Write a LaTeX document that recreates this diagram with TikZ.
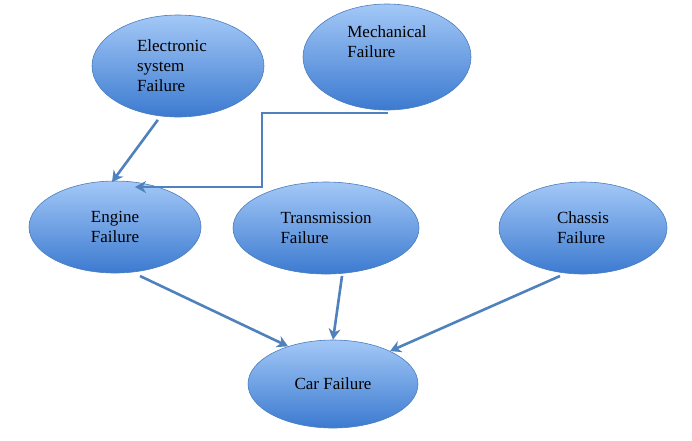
\documentclass[tikz,border=0pt]{standalone}
\usepackage{fontspec}
\setmainfont{Liberation Serif}
\usetikzlibrary{shapes.geometric,arrows.meta}
\definecolor{arr}{HTML}{4F81BD}
\definecolor{elltop}{HTML}{A3C8F7}
\definecolor{ellbot}{HTML}{3C7AD0}
\definecolor{ellline}{HTML}{4A7EBB}
\tikzset{
 ell/.style={ellipse, draw=ellline, line width=0.6pt, top color=elltop, bottom color=ellbot, align=left, font=\fontsize{17}{20}\selectfont, inner sep=0pt},
 con/.style={draw=arr, line width=2.6pt, -{Stealth[length=11pt,width=12pt]}},
}
\begin{document}
\begin{tikzpicture}[x=1pt,y=-1pt]
\useasboundingbox (0,0) rectangle (692,440);
\node[ell, minimum width=172, minimum height=102] (elec) at (178,66) {\hspace*{-12pt}Electronic\\\hspace*{-12pt}system\\\hspace*{-12pt}Failure};
\node[ell, minimum width=168, minimum height=106] (mech) at (387,57) {Mechanical\\Failure\\[10pt]};
\node[ell, minimum width=172, minimum height=92] (eng) at (115,227) {Engine\\Failure};
\node[ell, minimum width=186, minimum height=92] (tran) at (326,228) {Transmission\\Failure};
\node[ell, minimum width=168, minimum height=92] (chas) at (583,228) {Chassis\\Failure};
\node[ell, minimum width=170, minimum height=88] (car) at (333,384) {Car Failure};
\coordinate (m1) at (388,113);
\coordinate (mend) at (135,187);
\draw[con] (elec.-112) ++(0,4) -- (112,182);
\draw[draw=arr, line width=2.6pt] (m1) -- (262,113) -- (262,187) -- (150,187);
\draw[con] (262,187) -- (mend);
\draw[con] (140,276) -- (car.140);
\draw[con] (342,276) -- (car.north);
\draw[con] (560,276) -- (car.30);
\end{tikzpicture}
\end{document}
